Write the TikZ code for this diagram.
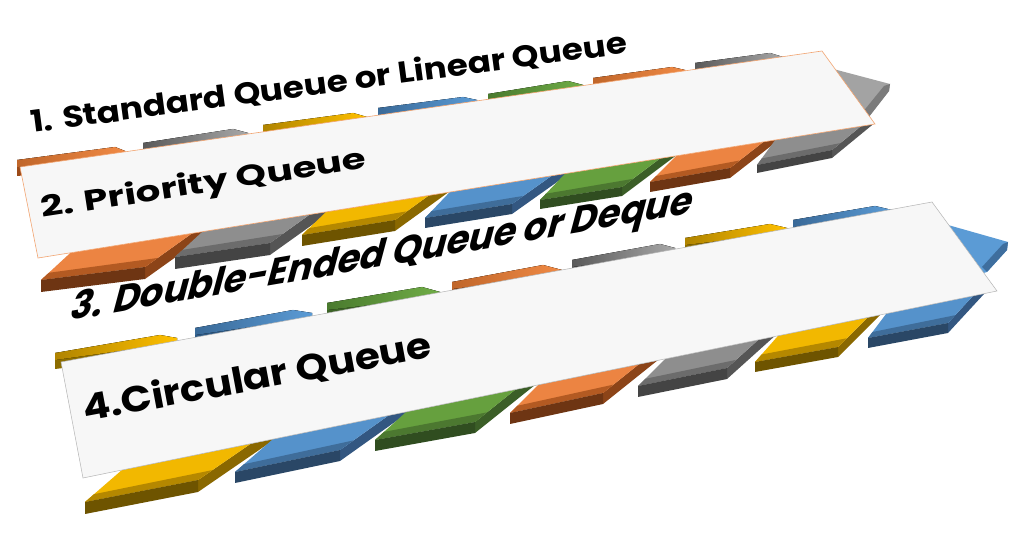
\documentclass[tikz,border=0pt]{standalone}
\usepackage{fontspec}
\setmainfont{Poppins}
\usetikzlibrary{calc}
% front tile colours: T top, B bevel band, F front, S side
\definecolor{oT}{HTML}{EC8442}\definecolor{oB}{HTML}{B35A22}\definecolor{oF}{HTML}{6E3513}\definecolor{oS}{HTML}{8C4418}
\definecolor{gT}{HTML}{8E8E8E}\definecolor{gB}{HTML}{6C6C6C}\definecolor{gF}{HTML}{444444}\definecolor{gS}{HTML}{555555}
\definecolor{yT}{HTML}{F2B800}\definecolor{yB}{HTML}{B58800}\definecolor{yF}{HTML}{6E5400}\definecolor{yS}{HTML}{8A6800}
\definecolor{bT}{HTML}{5592CB}\definecolor{bB}{HTML}{3F6D9A}\definecolor{bF}{HTML}{2A4766}\definecolor{bS}{HTML}{335781}
\definecolor{grT}{HTML}{66A03E}\definecolor{grB}{HTML}{4C7830}\definecolor{grF}{HTML}{304D20}\definecolor{grS}{HTML}{3B5E27}
% back strip colours: L light, M mid, D dark
\definecolor{oL}{HTML}{F08A45}\definecolor{oM}{HTML}{C0662A}\definecolor{oD}{HTML}{9C4A18}
\definecolor{gL}{HTML}{A8A8A8}\definecolor{gM}{HTML}{5A5A5A}\definecolor{gD}{HTML}{505050}
\definecolor{yL}{HTML}{FFC000}\definecolor{yM}{HTML}{B08400}\definecolor{yD}{HTML}{8C6D00}
\definecolor{bL}{HTML}{5B9BD5}\definecolor{bM}{HTML}{3A6A98}\definecolor{bD}{HTML}{2E5A85}
\definecolor{grL}{HTML}{70AD47}\definecolor{grM}{HTML}{4A7A2E}\definecolor{grD}{HTML}{3D6327}
\definecolor{gaT}{HTML}{A3A3A3}\definecolor{gaB}{HTML}{7B7B7B}
\definecolor{baT}{HTML}{5B9BD5}\definecolor{baB}{HTML}{3E6E9E}
\definecolor{cardfill}{HTML}{F7F7F7}
\definecolor{cardOne}{HTML}{F2A470}
\definecolor{cardTwo}{HTML}{B4B4B4}
% front tile: #1 front-top-left, #2 front-top-right, #3 thickness, #4 left dir, #5 right dir, #6 colour prefix
\newcommand\ftile[6]{%
  \coordinate (fl) at (#1); \coordinate (fr) at (#2);
  \fill[#6S] (fr) -- ($(fr)+(0,#3)$) -- ($(fr)+(0,#3)+2.5*(#5)$) -- ($(fr)+2.5*(#5)$) -- cycle;
  \fill[#6T] (fl) -- (fr) -- ($(fr)+2.5*(#5)$) -- ($(fl)+2.5*(#4)$) -- cycle;
  \fill[#6B] (fl) -- (fr) -- ($(fr)+0.3*(#5)$) -- ($(fl)+0.3*(#4)$) -- cycle;
  \fill[#6F] (fl) -- (fr) -- ($(fr)+(0,#3)$) -- ($(fl)+(0,#3)$) -- cycle;
}
% back strip: #1 top-left, #2 top-right, #3 right end, #4 colour prefix
\newcommand\btile[4]{%
  \fill[#4D] (#1) -- (#2) -- (#3) -- ($(#3)+(0,16)$) -- ($(#1)+(0,16)$) -- cycle;
  \fill[left color=#4M, right color=#4L] (#1) -- (#2) -- (#3) -- ($(#3)+(0,5)$) -- ($(#1)+(0,7)$) -- cycle;
}
\tikzset{
  cardone/.style={draw=cardOne, line width=0.6pt, fill=cardfill},
  cardtwo/.style={draw=cardTwo, line width=0.5pt, fill=cardfill},
  label/.style={anchor=base west, inner sep=0pt, text=black, font=\bfseries}
}
\begin{document}
\begin{tikzpicture}[x=1pt,y=-1pt]
\fill[white] (0,0) rectangle (1013,534);
\useasboundingbox (0,0) rectangle (1013,534);

% ---------------- group 1 ----------------
\btile{17,160}{115,147}{125,151}{o}
\btile{143,143}{233,129}{248,133}{g}
\btile{263,125}{353,113}{367,117}{y}
\btile{378,108}{463,97}{477,100}{b}
\btile{488,94}{568,81}{583,85}{gr}
\btile{593,78}{672,67}{685,70}{o}
\btile{695,63}{770,53}{783,57}{g}

\fill[gaT] (800,60) -- (837,70) -- (890,84) -- (889,91) -- (868,118) -- (850,122) -- (800,110) -- cycle;
\fill[gaB] (890,84) -- (889,91) -- (868,118) -- (862,113) -- (884,86) -- cycle;

\begin{scope}
\clip (0,264.1) -- (1013,101.9) -- (1013,534) -- (0,534) -- cycle;
\ftile{41,280}{145,267}{12}{26,-24}{42,-30}{o}
\ftile{175,257}{270,243}{12}{26,-24}{42,-30}{g}
\ftile{302,235}{395,220}{11}{24,-23}{40,-29}{y}
\ftile{425,218}{512,204}{10}{22,-23}{38,-27}{b}
\ftile{540,200}{622,187}{9}{20,-21}{36,-27}{gr}
\ftile{650,182}{730,168}{10}{20,-20}{32,-25}{o}
\ftile{757,165}{832,150}{8}{16,-22}{28,-23}{g}
\end{scope}

\draw[cardone] (20,167) -- (822,51) -- (875,124) -- (38,258) -- cycle;

\node[label, rotate=7.63] (t1) at (32,133)
  {\resizebox{601pt}{24pt}{1. Standard Queue or Linear Queue}};
\node[label, rotate=8.75] (t2) at (42,218)
  {\resizebox{329pt}{23pt}{2. Priority Queue}};

% ---------------- group 2 ----------------
\btile{55,353}{160,335}{177,338}{y}
\btile{195,328}{293,310}{312,313}{b}
\btile{327,303}{422,287}{440,292}{gr}
\btile{452,282}{543,265}{562,270}{o}
\btile{572,260}{660,244}{675,248}{g}
\btile{685,238}{770,224}{787,228}{y}
\btile{793,220}{875,206}{892,210}{b}

\fill[baT] (905,213) -- (948,225) -- (1008,242) -- (1007,250) -- (987,272) -- (960,280) -- (905,268) -- cycle;
\fill[baB] (1008,242) -- (1007,250) -- (987,272) -- (982,267) -- (1003,244) -- cycle;

\begin{scope}
\clip (0,495.0) -- (1013,287.7) -- (1013,534) -- (0,534) -- cycle;
\ftile{85,502}{198,480}{12}{30,-26}{48,-33}{y}
\ftile{235,472}{340,450}{11}{30,-26}{45,-32}{b}
\ftile{375,440}{475,422}{11}{30,-27}{40,-32}{gr}
\ftile{510,413}{603,393}{11}{24,-24}{35,-28}{o}
\ftile{638,386}{727,368}{11}{24,-24}{30,-27}{g}
\ftile{755,362}{838,347}{10}{22,-25}{29,-29}{y}
\ftile{868,338}{948,323}{10}{15,-20}{24,-26}{b}
\end{scope}

\draw[cardtwo] (61,362) -- (932,202) -- (997,291) -- (83,478) -- cycle;

\node[label, rotate=10.6] (t4) at (85,422)
  {\resizebox{354pt}{29pt}{4.Circular Queue}};
\node[label, yslant=0.173, xslant=0.28] (t3) at (68,321)
  {\resizebox{622pt}{28pt}{3. Double-Ended Queue or Deque}};
\end{tikzpicture}
\end{document}
